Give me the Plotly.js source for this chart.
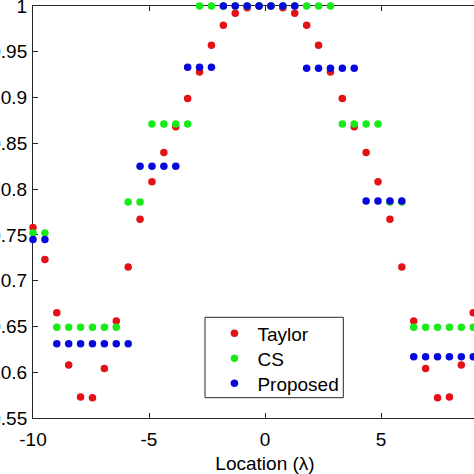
<!DOCTYPE html>
<html>
<head>
<meta charset="utf-8">
<script src="https://cdn.plot.ly/plotly-3.0.1.min.js"></script>
<style>
html, body { margin: 0; padding: 0; overflow: hidden; background: #fff; }
#chart { position: absolute; left: 0; top: 0; width: 520px; height: 474px; }
</style>
</head>
<body>
<div id="chart"></div>
<script>
// Location values (lambda)
const locations = [-10.000, -9.487, -8.974, -8.462, -7.949, -7.436, -6.923, -6.410, -5.897, -5.385,
  -4.872, -4.359, -3.846, -3.333, -2.821, -2.308, -1.795, -1.282, -0.769, -0.256,
  0.256, 0.769, 1.282, 1.795, 2.308, 2.821, 3.333, 3.846, 4.359, 4.872,
  5.385, 5.897, 6.410, 6.923, 7.436, 7.949, 8.462, 8.974, 9.487, 10.000];

const taylor = [0.758, 0.723, 0.665, 0.608, 0.573, 0.572, 0.604, 0.656, 0.715, 0.767,
  0.808, 0.840, 0.868, 0.899, 0.928, 0.957, 0.979, 0.992, 0.998, 1.000,
  1.000, 0.998, 0.992, 0.979, 0.957, 0.928, 0.899, 0.868, 0.840, 0.808,
  0.767, 0.715, 0.656, 0.604, 0.572, 0.573, 0.608, 0.665, 0.723, 0.758];

const cs = [0.752, 0.752, 0.649, 0.649, 0.649, 0.649, 0.649, 0.649, 0.786, 0.786,
  0.871, 0.871, 0.871, 0.871, 1.000, 1.000, 1.000, 1.000, 1.000, 1.000,
  1.000, 1.000, 1.000, 1.000, 1.000, 1.000, 0.871, 0.871, 0.871, 0.871,
  0.786, 0.786, 0.649, 0.649, 0.649, 0.649, 0.649, 0.649, 0.752, 0.752];

const proposed = [0.745, 0.745, 0.631, 0.631, 0.631, 0.631, 0.631, 0.631, 0.631, 0.825,
  0.825, 0.825, 0.825, 0.933, 0.933, 0.933, 1.000, 1.000, 1.000, 1.000,
  1.000, 1.000, 1.000, 0.932, 0.932, 0.932, 0.932, 0.932, 0.787, 0.787,
  0.787, 0.787, 0.617, 0.617, 0.617, 0.617, 0.617, 0.617, 0.745, 0.745];

const seriesNames = ['Taylor', 'CS', 'Proposed'];

const xTickVals = [-10, -5, 0, 5];
const xTickText = ['-10', '-5', '0', '5'];
const yTickVals = [0.55, 0.6, 0.65, 0.7, 0.75, 0.8, 0.85, 0.9, 0.95, 1];
const yTickText = ['0.55', '0.6', '0.65', '0.7', '0.75', '0.8', '0.85', '0.9', '0.95', '1'];

const FONT = 'Liberation Sans, Arial, sans-serif';
const INK = '#262626';
const FS = 19;

function series(y, name, color, legendId) {
  return {
    x: locations, y: y, name: name, type: 'scatter', mode: 'markers',
    cliponaxis: false, legend: legendId,
    marker: { color: color, size: 7.5, line: { width: 0 } }
  };
}

const data = [
  series(taylor, seriesNames[0], 'rgb(228,18,22)', 'legend'),
  series(cs, seriesNames[1], 'rgb(24,236,24)', 'legend2'),
  series(proposed, seriesNames[2], 'rgb(8,8,222)', 'legend3')
];

function legendAt(y) {
  return {
    x: 0.3845, y: y, xanchor: 'left', yanchor: 'middle',
    bgcolor: 'rgba(0,0,0,0)', borderwidth: 0, itemwidth: 36,
    font: { family: FONT, size: FS, color: '#000' }
  };
}

const layout = {
  width: 520, height: 474,
  margin: { l: 33, r: 23, t: 6, b: 56, pad: 0 },
  paper_bgcolor: '#fff', plot_bgcolor: '#fff',
  font: { family: FONT, size: FS, color: INK },
  showlegend: true,
  legend: legendAt(0.2056),
  legend2: legendAt(0.1449),
  legend3: legendAt(0.0842),
  shapes: [{
    type: 'rect', xref: 'paper', yref: 'paper',
    x0: 0.3707, x1: 0.6688, y0: 0.0493, y1: 0.2444,
    line: { color: INK, width: 1 }, fillcolor: '#fff', layer: 'above'
  }],
  xaxis: {
    range: [-10, 10], autorange: false,
    tickmode: 'array', tickvals: xTickVals, ticktext: xTickText,
    ticks: 'inside', ticklen: 5, tickwidth: 1, tickcolor: INK,
    showline: true, linecolor: INK, linewidth: 1, mirror: 'ticks',
    showgrid: false, zeroline: false, layer: 'below traces',
    automargin: false, ticklabelstandoff: 4, ticklabeloverflow: 'allow',
    tickfont: { family: FONT, size: FS, color: '#000' },
    title: { text: 'Location (λ)', font: { family: FONT, size: FS, color: '#000' }, standoff: 7 }
  },
  yaxis: {
    range: [0.55, 1], autorange: false,
    tickmode: 'array', tickvals: yTickVals, ticktext: yTickText,
    ticks: 'inside', ticklen: 5, tickwidth: 1, tickcolor: INK,
    showline: true, linecolor: INK, linewidth: 1, mirror: 'ticks',
    showgrid: false, zeroline: false, layer: 'below traces',
    automargin: false, ticklabelstandoff: 1, ticklabeloverflow: 'allow',
    tickfont: { family: FONT, size: FS, color: '#000' }
  }
};

Plotly.newPlot('chart', data, layout, { displayModeBar: false, staticPlot: true });
</script>
</body>
</html>
